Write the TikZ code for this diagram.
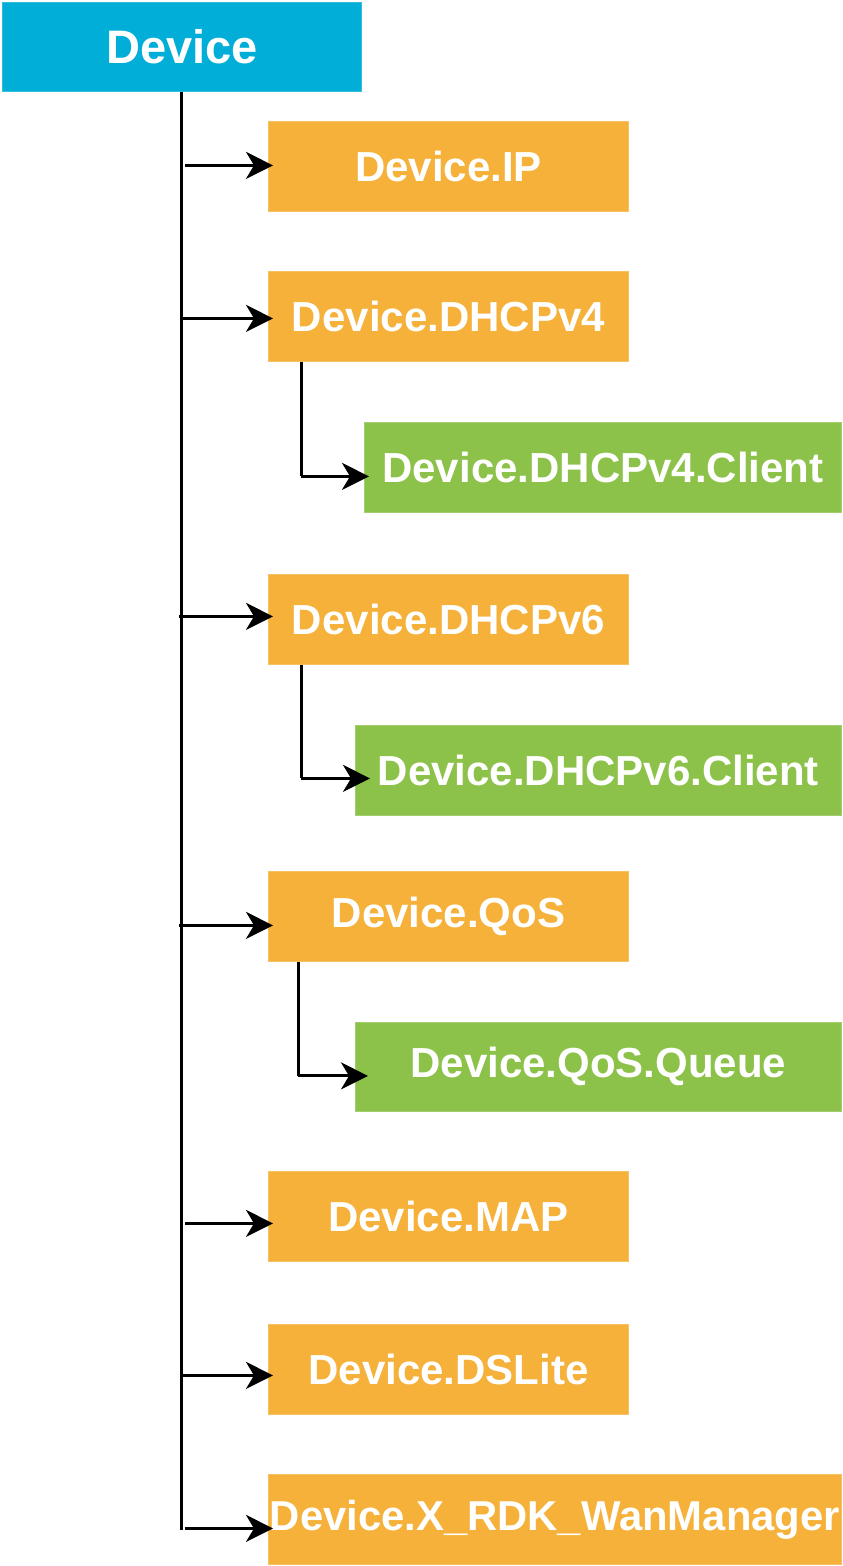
\documentclass[tikz,border=0pt]{standalone}
\usepackage{fontspec}
\setmainfont{Liberation Sans}
\usetikzlibrary{arrows.meta,calc}
\definecolor{devblue}{RGB}{0,174,216}
\definecolor{objorange}{RGB}{245,177,58}
\definecolor{objgreen}{RGB}{141,194,74}
\tikzset{
  box/.style={draw=#1!80!white, line width=0.8pt, fill=#1, anchor=north west, inner sep=0pt, text=white,
    font=\fontsize{42}{48}\selectfont\bfseries},
  trunkline/.style={line width=3pt, black},
  arr/.style={line width=3pt, black, -{Stealth[length=27pt,width=27pt,inset=8pt]}, shorten >=-5pt},
  subline/.style={line width=3pt, black},
}
\begin{document}
\begin{tikzpicture}[x=1pt,y=-1pt]
\useasboundingbox (0,0) rectangle (843,1566);
\node[box=devblue, minimum width=359pt, minimum height=89pt, font=\fontsize{47}{52}\selectfont\bfseries] (dev) at (2,2) {Device};
\node[box=objorange, minimum width=360pt, minimum height=90pt] (ip) at (268,121) {Device.IP};
\node[box=objorange, minimum width=360pt, minimum height=90pt] (d4) at (268,271) {Device.DHCPv4};
\node[box=objgreen, minimum width=477pt, minimum height=90pt] (c4) at (364,422) {Device.DHCPv4.Client};
\node[box=objorange, minimum width=360pt, minimum height=90pt] (d6) at (268,574) {Device.DHCPv6};
\node[box=objgreen, minimum width=486pt, minimum height=90pt] (c6) at (355,725) {Device.DHCPv6.Client};
\node[box=objorange, minimum width=360pt, minimum height=90pt] (qos) at (268,871) {Device.QoS};
\node[box=objgreen, minimum width=486pt, minimum height=89pt] (queue) at (355,1022) {Device.QoS.Queue};
\node[box=objorange, minimum width=360pt, minimum height=90pt] (map) at (268,1171) {Device.MAP};
\node[box=objorange, minimum width=360pt, minimum height=90pt] (ds) at (268,1324) {Device.DSLite};
\node[box=objorange, minimum width=573pt, minimum height=90pt] (wan) at (268,1474) {\resizebox{570pt}{!}{Device.X\_RDK\_WanManager}};
% trunk
\coordinate (tend) at ([yshift=-11pt]dev.south |- wan.west);
\draw[trunkline] (dev.south) -- (tend);
% branches from trunk
\draw[arr] ([xshift=3pt,yshift=1pt]dev.south |- ip.west) -- ([yshift=1pt]ip.west);
\draw[arr] ([yshift=-2pt]dev.south |- d4.west) -- ([yshift=-2pt]d4.west);
\draw[arr] ([xshift=-3pt,yshift=3pt]dev.south |- d6.west) -- ([yshift=3pt]d6.west);
\draw[arr] ([xshift=-3pt,yshift=-9pt]dev.south |- qos.west) -- ([yshift=-9pt]qos.west);
\draw[arr] ([xshift=3pt,yshift=-7pt]dev.south |- map.west) -- ([yshift=-7pt]map.west);
\draw[arr] ([yshift=-6pt]dev.south |- ds.west) -- ([yshift=-6pt]ds.west);
\draw[arr] ([xshift=3pt,yshift=-9pt]dev.south |- wan.west) -- ([yshift=-9pt]wan.west);
% sub branches
\coordinate (s4) at ([xshift=33pt]d4.south west);
\coordinate (s6) at ([xshift=33pt]d6.south west);
\coordinate (sq) at ([xshift=30pt]qos.south west);
\draw[subline] (s4) -- ([yshift=-9pt]s4 |- c4.west);
\draw[arr] ([yshift=-9pt]s4 |- c4.west) -- ([yshift=-9pt]c4.west);
\draw[subline] (s6) -- ([yshift=-8pt]s6 |- c6.west);
\draw[arr, shorten >=-15pt] ([yshift=-8pt]s6 |- c6.west) -- ([yshift=-8pt]c6.west);
\draw[subline] (sq) -- ([yshift=-9pt]sq |- queue.west);
\draw[arr, shorten >=-13pt] ([yshift=-9pt]sq |- queue.west) -- ([yshift=-9pt]queue.west);
\end{tikzpicture}
\end{document}
